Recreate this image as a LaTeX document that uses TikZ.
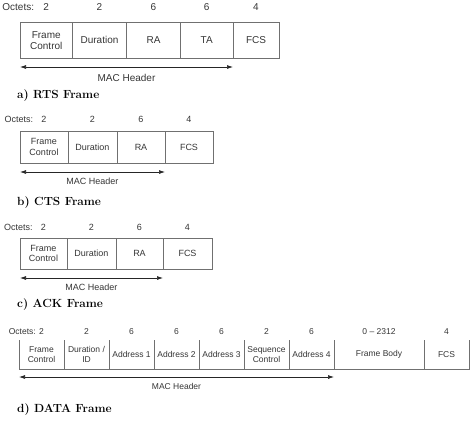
\documentclass[tikz,border=0pt]{standalone}
\usepackage{fontspec}
\setsansfont{Liberation Sans}
\usetikzlibrary{arrows.meta,positioning}
\definecolor{boxgray}{HTML}{707070}
\definecolor{inkgray}{HTML}{353535}
\tikzset{field/.style={rectangle,inner sep=0pt,outer sep=0pt,align=center,text=inkgray},framebox/.style={field,draw=boxgray,line width=.7pt},boxline/.style={boxgray,line width=.7pt},octet/.style={inner sep=1pt,text=inkgray},header/.style={{Latex[length=6pt,width=4pt]}-{Latex[length=6pt,width=4pt]},line width=.7pt,black!85},caption/.style={anchor=west,inner sep=0pt,font=\rmfamily\bfseries\fontsize{11.8}{14}\selectfont}}

\begin{document}
\begin{tikzpicture}[x=1pt,y=-1pt]
\useasboundingbox (0,0) rectangle (474,424);
% a) RTS
\begin{scope}[font=\sffamily\fontsize{10}{11}\selectfont]
\foreach \k/\xl/\xr/\txt/\oct in {1/20/72.5/{Frame\\Control}/2,2/72.5/126.5/Duration/2,3/126.5/180.5/RA/6,4/180.5/233/TA/6,5/233/279/FCS/4}{
\node[framebox,minimum width={(\xr-\xl)*1pt},minimum height=35.5pt] (rts\k) at ({(\xl+\xr)/2},40.25) {\txt};
\node[octet] (rtsn\k) at ([yshift=15pt]rts\k.north) {\oct};
}
\node[octet,left=7pt of rtsn1] (rtso) {Octets:};
\coordinate (rtsh1) at ([yshift=-9pt]rts1.south west);
\coordinate (rtsh2) at ([yshift=-9pt]rts4.south east);
\draw[header] (rtsh1) -- node[octet,midway,yshift=-11pt] (rtsmac) {MAC Header} (rtsh2);
\end{scope}
\node[caption] (rtscap) at (17,96) {a) RTS Frame};
% b) CTS
\begin{scope}[font=\sffamily\fontsize{9}{10.7}\selectfont]
\foreach \k/\xl/\xr/\txt/\oct in {1/20/68/{Frame\\Control}/2,2/68/117/Duration/2,3/117/165/RA/6,4/165/213/FCS/4}{
\node[framebox,minimum width={(\xr-\xl)*1pt},minimum height=32pt] (cts\k) at ({(\xl+\xr)/2},147) {\txt};
\node[octet] (ctsn\k) at ([yshift=12pt]cts\k.north) {\oct};
}
\node[octet,left=6pt of ctsn1] (ctso) {Octets:};
\coordinate (ctsh1) at ([yshift=-9pt]cts1.south west);
\coordinate (ctsh2) at ([yshift=-9pt]cts3.south east);
\draw[header] (ctsh1) -- node[octet,midway,yshift=-9.5pt] (ctsmac) {MAC Header} (ctsh2);
\end{scope}
\node[caption] (ctscap) at (17,203) {b) CTS Frame};
% c) ACK
\begin{scope}[font=\sffamily\fontsize{9}{10.7}\selectfont]
\foreach \k/\xl/\xr/\txt/\oct in {1/20/67/{Frame\\Control}/2,2/67/116/Duration/2,3/116/163/RA/6,4/163/212/FCS/4}{
\node[framebox,minimum width={(\xr-\xl)*1pt},minimum height=31pt] (ack\k) at ({(\xl+\xr)/2},253.5) {\txt};
\node[octet] (ackn\k) at ([yshift=10.5pt]ack\k.north) {\oct};
}
\node[octet,left=6pt of ackn1] (acko) {Octets:};
\coordinate (ackh1) at ([yshift=-9pt]ack1.south west);
\coordinate (ackh2) at ([yshift=-9pt]ack3.south east);
\draw[header] (ackh1) -- node[octet,midway,yshift=-9pt] (ackmac) {MAC Header} (ackh2);
\end{scope}
\node[caption] (ackcap) at (17,305) {c) ACK Frame};
% d) DATA
\begin{scope}[font=\sffamily\fontsize{8.5}{10}\selectfont]
\foreach \k/\xl/\xr/\txt/\oct in {1/19/64/{Frame\\Control}/2,2/64/109/{Duration /\\ID}/2,3/109/154/Address 1/6,4/154/199/Address 2/6,5/199/244/Address 3/6,6/244/289/{Sequence\\Control}/2,7/289/334/Address 4/6,8/334/424/Frame Body/{0 -- 2312},9/424/469/FCS/4}{
\node[field,minimum width={(\xr-\xl)*1pt},minimum height=29pt] (dat\k) at ({(\xl+\xr)/2},354.5) {\txt};
\node[octet] (datn\k) at ([yshift=8pt]dat\k.north) {\oct};
}
\draw[boxline] (dat1.north west) -- (dat1.south west) -- (dat9.south east) -- (dat9.north east);
\foreach \k in {1,...,8} \draw[boxline] (dat\k.north east) -- (dat\k.south east);
\node[octet,left=1pt of datn1] (dato) {Octets:};
\coordinate (dath1) at ([yshift=-8pt]dat1.south west);
\coordinate (dath2) at ([yshift=-8pt]dat7.south east);
\draw[header] (dath1) -- node[octet,midway,yshift=-9pt] (datmac) {MAC Header} (dath2);
\end{scope}
\node[caption] (datcap) at (17,410) {d) DATA Frame};
\end{tikzpicture}
\end{document}
